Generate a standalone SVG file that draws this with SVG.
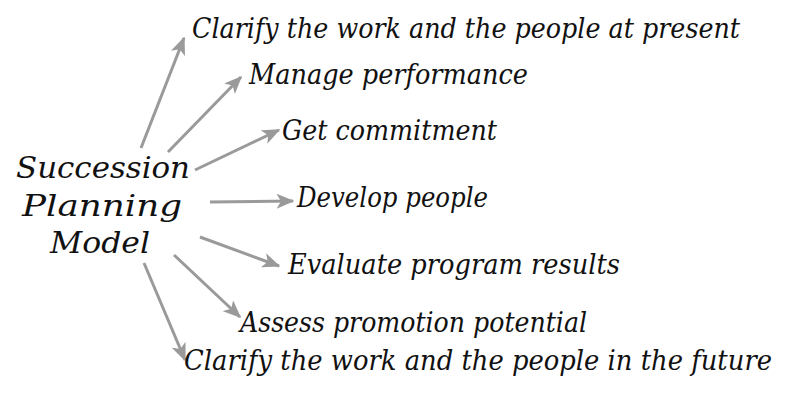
<svg xmlns="http://www.w3.org/2000/svg" width="800" height="400" viewBox="0 0 800 400">
<style>
.t{font-family:"DejaVu Serif","Liberation Serif",serif;font-style:italic;fill:#111;font-size:27px}
.c{font-family:"DejaVu Serif","Liberation Serif",serif;font-style:italic;fill:#111;font-size:29px;text-anchor:middle}
.a{stroke:#9a9a9a;stroke-width:3;fill:none;marker-end:url(#ah)}
</style>
<defs>
<marker id="ah" viewBox="0 0 12 10" refX="11" refY="5" markerWidth="6" markerHeight="5" orient="auto" markerUnits="strokeWidth">
<path d="M0,0 L12,5 L0,10 L3,5 Z" fill="#9a9a9a"/>
</marker>
</defs>
<rect width="800" height="400" fill="#fff"/>
<g id="connectors">
<line class="a" x1="141" y1="148" x2="184" y2="38"/>
<line class="a" x1="168" y1="152" x2="241" y2="77"/>
<line class="a" x1="195" y1="170" x2="279" y2="130"/>
<line class="a" x1="210" y1="202" x2="293" y2="201"/>
<line class="a" x1="200" y1="237" x2="279" y2="266"/>
<line class="a" x1="174" y1="255" x2="240" y2="317"/>
<line class="a" x1="144" y1="263" x2="185" y2="360"/>
</g>
<g id="center">
<text class="c" x="103" y="178" textLength="174" lengthAdjust="spacingAndGlyphs">Succession</text>
<text class="c" x="102" y="216" textLength="160" lengthAdjust="spacingAndGlyphs">Planning</text>
<text class="c" x="100" y="253" textLength="100" lengthAdjust="spacingAndGlyphs">Model</text>
</g>
<g id="n1"><text class="t" x="192" y="38" textLength="548" lengthAdjust="spacingAndGlyphs">Clarify the work and the people at present</text></g>
<g id="n2"><text class="t" x="249" y="84" textLength="279" lengthAdjust="spacingAndGlyphs">Manage performance</text></g>
<g id="n3"><text class="t" x="282" y="140" textLength="215" lengthAdjust="spacingAndGlyphs">Get commitment</text></g>
<g id="n4"><text class="t" x="297" y="207" textLength="191" lengthAdjust="spacingAndGlyphs">Develop people</text></g>
<g id="n5"><text class="t" x="288" y="274" textLength="332" lengthAdjust="spacingAndGlyphs">Evaluate program results</text></g>
<g id="n6"><text class="t" x="240" y="332" textLength="347" lengthAdjust="spacingAndGlyphs">Assess promotion potential</text></g>
<g id="n7"><text class="t" x="184" y="370" textLength="588" lengthAdjust="spacingAndGlyphs">Clarify the work and the people in the future</text></g>
</svg>
